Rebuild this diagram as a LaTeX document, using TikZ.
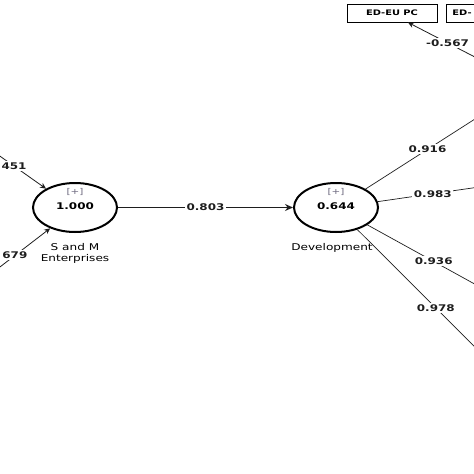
\documentclass[tikz,border=0pt]{standalone}
\usepackage{fontspec}
\setmainfont{DejaVu Sans}[FakeStretch=1.3]
\usepackage{xcolor}
\usepackage{tikz}
\usetikzlibrary{shapes.geometric, arrows.meta, positioning, calc}
\definecolor{linkblack}{HTML}{1E1E1E}
\definecolor{signgray}{HTML}{6E6A80}

\begin{document}
\begin{tikzpicture}[
    x=1pt, y=-1pt,
    construct/.style={draw, ellipse, line width=2pt, minimum width=84pt, minimum height=49pt, inner sep=0pt},
    indicator/.style={draw, line width=0.9pt, minimum width=90pt, minimum height=18pt, inner sep=0pt, font=\fontsize{7.6}{9}\selectfont\bfseries},
    arrow/.style={-{Stealth[length=8pt, width=7pt]}, line width=1.3pt, color=linkblack},
    inarrow/.style={-{Stealth[length=6pt, width=5.5pt]}, line width=0.8pt, color=linkblack},
    link/.style={line width=0.7pt, color=linkblack},
    coef/.style={fill=white, inner sep=1.5pt, font=\fontsize{9.2}{11}\selectfont\bfseries},
    value/.style={inner sep=0pt, font=\fontsize{9.2}{11}\selectfont\bfseries},
    sign/.style={inner sep=0pt, text=signgray, font=\fontsize{8}{9}\selectfont},
    lbl/.style={align=center, inner sep=0pt, font=\fontsize{9.3}{11.5}\selectfont},
]
    \useasboundingbox (0,0) rectangle (474,474);
    \clip (0,0) rectangle (474,474);

    % Latent constructs
    \node[construct] (sme) at (75,207.5) {};
    \node[construct] (dev) at (336,207.5) {};
    \node[value] (smeval) at ([yshift=1.5pt]sme.center) {1.000};
    \node[sign] (smesign) at ([yshift=15.5pt]sme.center) {[+]};
    \node[value] (devval) at ([yshift=1.5pt]dev.center) {0.644};
    \node[sign] (devsign) at ([yshift=15.5pt]dev.center) {[+]};
    \node[lbl, below=10pt of sme] (smename) {S and M\\Enterprises};
    \node[lbl, below=10.5pt of dev, xshift=-4pt] (devname) {Development};

    % Indicator boxes (top)
    \node[indicator] (edeupc) at (392,13) {ED-EU PC};
    \node[indicator, anchor=west, text width=78pt, align=left, inner xsep=6pt] (edeu2) at (446,13) {ED-};

    % Points beyond the visible frame
    \coordinate (left1) at (-30,135);
    \coordinate (left2) at (-30,290);
    \coordinate (right0) at (500,70);
    \coordinate (right1) at (500,103);
    \coordinate (right2) at (500,184);
    \coordinate (right3) at (500,298);
    \coordinate (right4) at (500,372);

    % Structural path
    \draw[arrow] (sme) -- node[coef] {0.803} (dev);

    % Paths into S and M Enterprises
    \draw[inarrow] (left1) -- node[coef, pos=0.58] {451} (sme.147);
    \draw[inarrow] (left2) -- node[coef, pos=0.56] {679} (sme.220);

    % Loadings of Development
    \draw[link] (dev.32) -- node[coef, pos=0.46] {0.916} (right1);
    \draw[link] (dev.8) -- node[coef, pos=0.45] {0.983} (right2);
    \draw[link] (dev.-29) -- node[coef, pos=0.5] {0.936} (right3);
    \draw[link] (dev.-46) -- node[coef, pos=0.55] {0.978} (right4);

    % Path into ED-EU PC
    \draw[inarrow] (right0) -- node[coef, pos=0.57] {-0.567} ([xshift=16pt]edeupc.south);
\end{tikzpicture}
\end{document}
